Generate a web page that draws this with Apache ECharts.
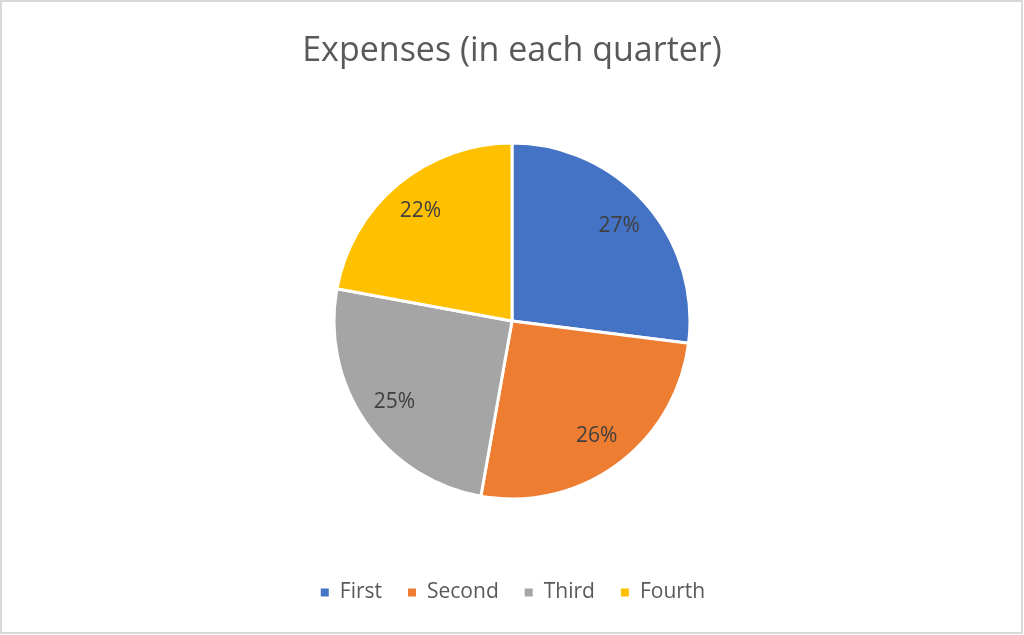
<!DOCTYPE html>
<html>
<head>
<meta charset="utf-8">
<script src="https://cdn.jsdelivr.net/npm/echarts@6/dist/echarts.min.js"></script>
<style>
html,body{margin:0;padding:0;background:#fff;}
#chart{width:1024px;height:635px;}
</style>
</head>
<body>
<div id="chart"></div>
<script>
const categories = ['First', 'Second', 'Third', 'Fourth'];
const values = [27.0, 25.8, 25.1, 22.1];
const colors = ['#4472C4', '#ED7D31', '#A5A5A5', '#FFC000'];

const pieData = categories.map((c, i) => ({ name: c, value: values[i], itemStyle: { color: colors[i] } }));
const labelData = categories.map((c, i) => ({ name: c, value: values[i] }));

const chart = echarts.init(document.getElementById('chart'));
chart.setOption({
  animation: false,
  backgroundColor: '#fff',
  color: colors,
  title: {
    text: 'Expenses (in each quarter)',
    left: 'center',
    top: 29,
    textStyle: { fontFamily: 'Open Sans', fontSize: 34, fontWeight: 'normal', color: '#595959' }
  },
  legend: {
    bottom: 27,
    left: 'center',
    icon: 'rect',
    itemWidth: 10,
    itemHeight: 10,
    itemGap: 24,
    data: categories,
    textStyle: { fontFamily: 'Open Sans', fontSize: 21, color: '#595959', padding: [0, 0, 0, 5] }
  },
  graphic: [{
    type: 'rect',
    shape: { x: 1, y: 1, width: 1021, height: 632 },
    style: { fill: 'none', stroke: '#d9d9d9', lineWidth: 2 },
    silent: true
  }],
  series: [{
    type: 'pie',
    center: [512, 321],
    radius: [0, 178],
    startAngle: 90,
    clockwise: true,
    percentPrecision: 0,
    data: pieData,
    itemStyle: { borderColor: '#fff', borderWidth: 3 },
    label: { show: false },
    labelLine: { show: false },
    emphasis: { disabled: true }
  }, {
    type: 'pie',
    center: [512, 321],
    radius: [102, 178],
    startAngle: 90,
    clockwise: true,
    percentPrecision: 0,
    data: labelData,
    silent: true,
    itemStyle: { color: 'rgba(0,0,0,0)', borderWidth: 0 },
    label: {
      show: true,
      position: 'inside',
      formatter: '{d}%',
      fontFamily: 'Open Sans',
      fontSize: 21,
      color: '#404040'
    },
    labelLine: { show: false },
    emphasis: { disabled: true },
    legendHoverLink: false
  }]
});
</script>
</body>
</html>
